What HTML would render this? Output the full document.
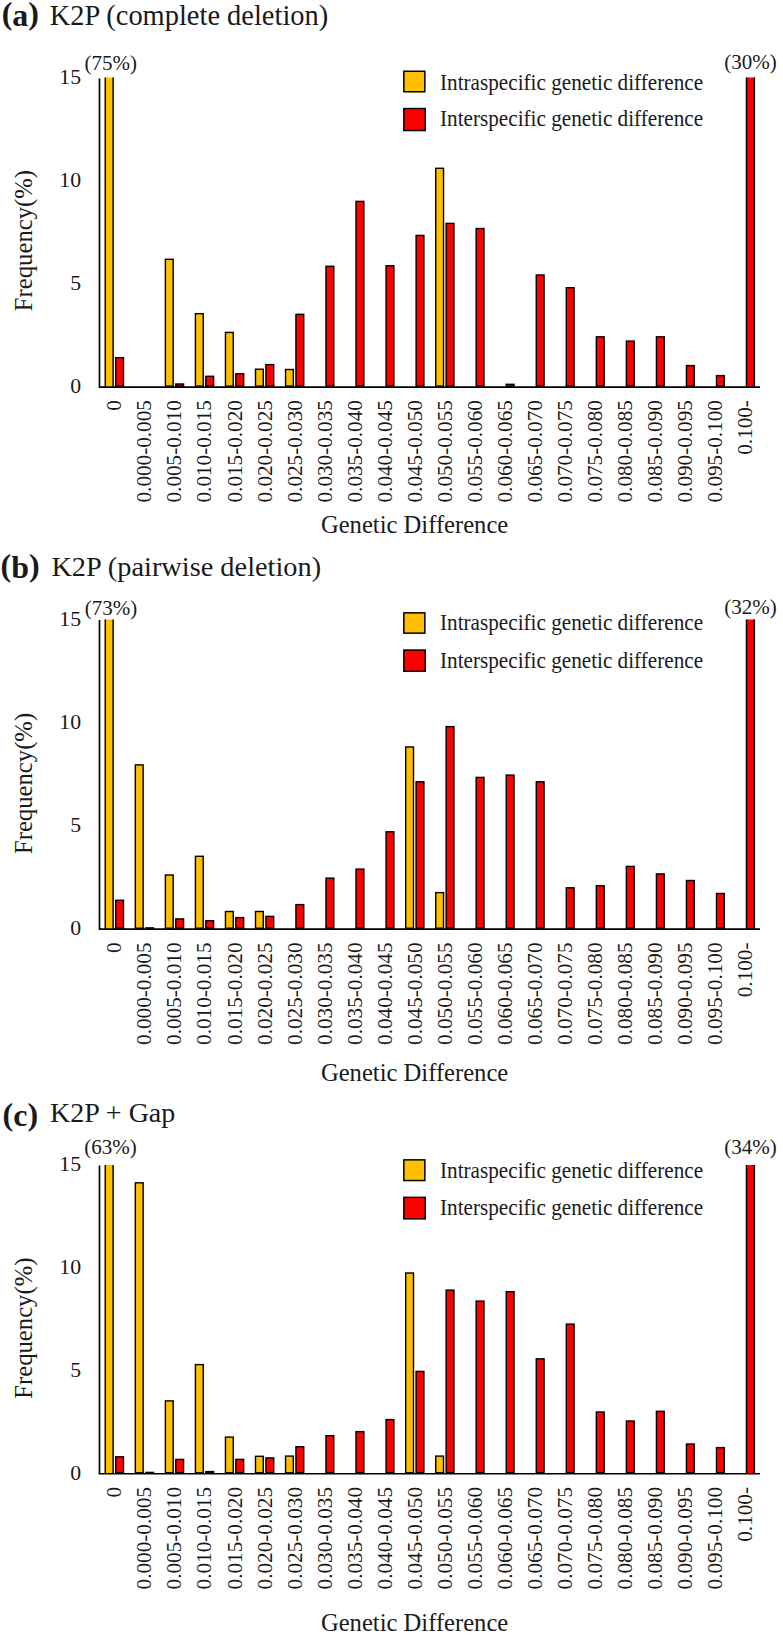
<!DOCTYPE html>
<html><head><meta charset="utf-8"><title>Genetic difference histograms</title>
<style>
html,body{margin:0;padding:0;background:#fff;}
body{width:783px;height:1644px;overflow:hidden;font-family:"Liberation Serif",serif;}
svg{display:block;}
</style></head><body>
<svg width="783" height="1644" viewBox="0 0 783 1644" font-family='"Liberation Serif", serif' fill="#1a1a1a">
<text x="20.35" y="24.02" font-size="32.00" font-weight="bold" text-anchor="middle">(<tspan dy="1.50">a</tspan><tspan dy="-1.50">)</tspan></text>
<text x="49.70" y="24.60" font-size="28.45">K2P (complete deletion)</text>
<rect x="104.60" y="77.50" width="9.20" height="309.30" fill="#FFC000"/><path d="M105.30 77.50V386.80M113.10 77.50V386.80" stroke="#000" stroke-width="1.40"/>
<rect x="115.70" y="357.70" width="7.80" height="28.40" fill="#FF0000" stroke="#000" stroke-width="1.40"/>
<rect x="165.38" y="259.30" width="7.80" height="126.80" fill="#FFC000" stroke="#000" stroke-width="1.40"/>
<rect x="175.78" y="384.00" width="7.80" height="2.10" fill="#FF0000" stroke="#000" stroke-width="1.40"/>
<rect x="195.42" y="313.70" width="7.80" height="72.40" fill="#FFC000" stroke="#000" stroke-width="1.40"/>
<rect x="205.82" y="376.30" width="7.80" height="9.80" fill="#FF0000" stroke="#000" stroke-width="1.40"/>
<rect x="225.46" y="332.40" width="7.80" height="53.70" fill="#FFC000" stroke="#000" stroke-width="1.40"/>
<rect x="235.86" y="373.80" width="7.80" height="12.30" fill="#FF0000" stroke="#000" stroke-width="1.40"/>
<rect x="255.50" y="369.20" width="7.80" height="16.90" fill="#FFC000" stroke="#000" stroke-width="1.40"/>
<rect x="265.90" y="364.60" width="7.80" height="21.50" fill="#FF0000" stroke="#000" stroke-width="1.40"/>
<rect x="285.54" y="369.50" width="7.80" height="16.60" fill="#FFC000" stroke="#000" stroke-width="1.40"/>
<rect x="295.94" y="314.30" width="7.80" height="71.80" fill="#FF0000" stroke="#000" stroke-width="1.40"/>
<rect x="325.98" y="266.30" width="7.80" height="119.80" fill="#FF0000" stroke="#000" stroke-width="1.40"/>
<rect x="356.02" y="201.40" width="7.80" height="184.70" fill="#FF0000" stroke="#000" stroke-width="1.40"/>
<rect x="386.06" y="265.80" width="7.80" height="120.30" fill="#FF0000" stroke="#000" stroke-width="1.40"/>
<rect x="416.10" y="235.40" width="7.80" height="150.70" fill="#FF0000" stroke="#000" stroke-width="1.40"/>
<rect x="435.74" y="168.30" width="7.80" height="217.80" fill="#FFC000" stroke="#000" stroke-width="1.40"/>
<rect x="446.14" y="223.40" width="7.80" height="162.70" fill="#FF0000" stroke="#000" stroke-width="1.40"/>
<rect x="476.18" y="228.50" width="7.80" height="157.60" fill="#FF0000" stroke="#000" stroke-width="1.40"/>
<rect x="506.22" y="384.30" width="7.80" height="1.80" fill="#FF0000" stroke="#000" stroke-width="1.40"/>
<rect x="536.26" y="275.00" width="7.80" height="111.10" fill="#FF0000" stroke="#000" stroke-width="1.40"/>
<rect x="566.30" y="287.70" width="7.80" height="98.40" fill="#FF0000" stroke="#000" stroke-width="1.40"/>
<rect x="596.34" y="336.80" width="7.80" height="49.30" fill="#FF0000" stroke="#000" stroke-width="1.40"/>
<rect x="626.38" y="341.10" width="7.80" height="45.00" fill="#FF0000" stroke="#000" stroke-width="1.40"/>
<rect x="656.42" y="336.80" width="7.80" height="49.30" fill="#FF0000" stroke="#000" stroke-width="1.40"/>
<rect x="686.46" y="365.60" width="7.80" height="20.50" fill="#FF0000" stroke="#000" stroke-width="1.40"/>
<rect x="716.50" y="375.60" width="7.80" height="10.50" fill="#FF0000" stroke="#000" stroke-width="1.40"/>
<rect x="745.84" y="77.50" width="9.20" height="309.30" fill="#FF0000"/><path d="M746.54 77.50V386.80M754.34 77.50V386.80" stroke="#000" stroke-width="1.40"/>
<path d="M99.50 78.60V387.05H760.00" fill="none" stroke="#000" stroke-width="1.7"/>
<text x="81.1" y="393.14" font-size="21.80" text-anchor="end">0</text>
<text x="81.1" y="290.08" font-size="21.80" text-anchor="end">5</text>
<text x="81.1" y="187.01" font-size="21.80" text-anchor="end">10</text>
<text x="81.1" y="83.94" font-size="21.80" text-anchor="end">15</text>
<text transform="translate(31.6 240.55) rotate(-90)" font-size="24.70" text-anchor="middle">Frequency(%)</text>
<text x="110.85" y="69.64" font-size="21.00" text-anchor="middle">(75%)</text>
<text x="750.40" y="69.28" font-size="21.00" text-anchor="middle">(30%)</text>
<rect x="403.85" y="71.25" width="21.00" height="20.50" fill="#FFC000" stroke="#000" stroke-width="1.50"/>
<rect x="403.85" y="108.55" width="21.40" height="22.00" fill="#FF0000" stroke="#000" stroke-width="1.50"/>
<text transform="translate(440 89.90) scale(1 1.080)" font-size="21.20">Intraspecific genetic difference</text>
<text transform="translate(440 126.20) scale(1 1.080)" font-size="21.20">Interspecific genetic difference</text>
<text transform="translate(121.35 400.10) rotate(-90)" font-size="21.20" text-anchor="end">0</text>
<text transform="translate(151.39 400.10) rotate(-90)" font-size="21.20" text-anchor="end">0.000-0.005</text>
<text transform="translate(181.43 400.10) rotate(-90)" font-size="21.20" text-anchor="end">0.005-0.010</text>
<text transform="translate(211.47 400.10) rotate(-90)" font-size="21.20" text-anchor="end">0.010-0.015</text>
<text transform="translate(241.51 400.10) rotate(-90)" font-size="21.20" text-anchor="end">0.015-0.020</text>
<text transform="translate(271.55 400.10) rotate(-90)" font-size="21.20" text-anchor="end">0.020-0.025</text>
<text transform="translate(301.59 400.10) rotate(-90)" font-size="21.20" text-anchor="end">0.025-0.030</text>
<text transform="translate(331.63 400.10) rotate(-90)" font-size="21.20" text-anchor="end">0.030-0.035</text>
<text transform="translate(361.67 400.10) rotate(-90)" font-size="21.20" text-anchor="end">0.035-0.040</text>
<text transform="translate(391.71 400.10) rotate(-90)" font-size="21.20" text-anchor="end">0.040-0.045</text>
<text transform="translate(421.75 400.10) rotate(-90)" font-size="21.20" text-anchor="end">0.045-0.050</text>
<text transform="translate(451.79 400.10) rotate(-90)" font-size="21.20" text-anchor="end">0.050-0.055</text>
<text transform="translate(481.83 400.10) rotate(-90)" font-size="21.20" text-anchor="end">0.055-0.060</text>
<text transform="translate(511.87 400.10) rotate(-90)" font-size="21.20" text-anchor="end">0.060-0.065</text>
<text transform="translate(541.91 400.10) rotate(-90)" font-size="21.20" text-anchor="end">0.065-0.070</text>
<text transform="translate(571.95 400.10) rotate(-90)" font-size="21.20" text-anchor="end">0.070-0.075</text>
<text transform="translate(601.99 400.10) rotate(-90)" font-size="21.20" text-anchor="end">0.075-0.080</text>
<text transform="translate(632.03 400.10) rotate(-90)" font-size="21.20" text-anchor="end">0.080-0.085</text>
<text transform="translate(662.07 400.10) rotate(-90)" font-size="21.20" text-anchor="end">0.085-0.090</text>
<text transform="translate(692.11 400.10) rotate(-90)" font-size="21.20" text-anchor="end">0.090-0.095</text>
<text transform="translate(722.15 400.10) rotate(-90)" font-size="21.20" text-anchor="end">0.095-0.100</text>
<text transform="translate(752.19 400.10) rotate(-90)" font-size="21.20" text-anchor="end">0.100-</text>
<text x="414.6" y="532.70" font-size="24.60" text-anchor="middle">Genetic Difference</text>
<text x="20.15" y="576.02" font-size="32.00" font-weight="bold" text-anchor="middle">(<tspan dy="1.50">b</tspan><tspan dy="-1.50">)</tspan></text>
<text x="51.40" y="576.00" font-size="28.35">K2P (pairwise deletion)</text>
<rect x="104.60" y="619.50" width="9.20" height="309.40" fill="#FFC000"/><path d="M105.30 619.50V928.90M113.10 619.50V928.90" stroke="#000" stroke-width="1.40"/>
<rect x="115.70" y="900.30" width="7.80" height="27.90" fill="#FF0000" stroke="#000" stroke-width="1.40"/>
<rect x="135.34" y="764.90" width="7.80" height="163.30" fill="#FFC000" stroke="#000" stroke-width="1.40"/>
<rect x="145.74" y="927.90" width="7.80" height="0.30" fill="#FF0000" stroke="#000" stroke-width="1.40"/>
<rect x="165.38" y="875.00" width="7.80" height="53.20" fill="#FFC000" stroke="#000" stroke-width="1.40"/>
<rect x="175.78" y="918.90" width="7.80" height="9.30" fill="#FF0000" stroke="#000" stroke-width="1.40"/>
<rect x="195.42" y="856.30" width="7.80" height="71.90" fill="#FFC000" stroke="#000" stroke-width="1.40"/>
<rect x="205.82" y="920.70" width="7.80" height="7.50" fill="#FF0000" stroke="#000" stroke-width="1.40"/>
<rect x="225.46" y="911.50" width="7.80" height="16.70" fill="#FFC000" stroke="#000" stroke-width="1.40"/>
<rect x="235.86" y="917.60" width="7.80" height="10.60" fill="#FF0000" stroke="#000" stroke-width="1.40"/>
<rect x="255.50" y="911.50" width="7.80" height="16.70" fill="#FFC000" stroke="#000" stroke-width="1.40"/>
<rect x="265.90" y="916.40" width="7.80" height="11.80" fill="#FF0000" stroke="#000" stroke-width="1.40"/>
<rect x="295.94" y="904.60" width="7.80" height="23.60" fill="#FF0000" stroke="#000" stroke-width="1.40"/>
<rect x="325.98" y="878.10" width="7.80" height="50.10" fill="#FF0000" stroke="#000" stroke-width="1.40"/>
<rect x="356.02" y="869.10" width="7.80" height="59.10" fill="#FF0000" stroke="#000" stroke-width="1.40"/>
<rect x="386.06" y="831.80" width="7.80" height="96.40" fill="#FF0000" stroke="#000" stroke-width="1.40"/>
<rect x="405.70" y="747.00" width="7.80" height="181.20" fill="#FFC000" stroke="#000" stroke-width="1.40"/>
<rect x="416.10" y="781.80" width="7.80" height="146.40" fill="#FF0000" stroke="#000" stroke-width="1.40"/>
<rect x="435.74" y="892.60" width="7.80" height="35.60" fill="#FFC000" stroke="#000" stroke-width="1.40"/>
<rect x="446.14" y="726.60" width="7.80" height="201.60" fill="#FF0000" stroke="#000" stroke-width="1.40"/>
<rect x="476.18" y="777.40" width="7.80" height="150.80" fill="#FF0000" stroke="#000" stroke-width="1.40"/>
<rect x="506.22" y="775.10" width="7.80" height="153.10" fill="#FF0000" stroke="#000" stroke-width="1.40"/>
<rect x="536.26" y="781.80" width="7.80" height="146.40" fill="#FF0000" stroke="#000" stroke-width="1.40"/>
<rect x="566.30" y="887.80" width="7.80" height="40.40" fill="#FF0000" stroke="#000" stroke-width="1.40"/>
<rect x="596.34" y="885.70" width="7.80" height="42.50" fill="#FF0000" stroke="#000" stroke-width="1.40"/>
<rect x="626.38" y="866.40" width="7.80" height="61.80" fill="#FF0000" stroke="#000" stroke-width="1.40"/>
<rect x="656.42" y="873.90" width="7.80" height="54.30" fill="#FF0000" stroke="#000" stroke-width="1.40"/>
<rect x="686.46" y="880.50" width="7.80" height="47.70" fill="#FF0000" stroke="#000" stroke-width="1.40"/>
<rect x="716.50" y="893.50" width="7.80" height="34.70" fill="#FF0000" stroke="#000" stroke-width="1.40"/>
<rect x="745.84" y="619.50" width="9.20" height="309.40" fill="#FF0000"/><path d="M746.54 619.50V928.90M754.34 619.50V928.90" stroke="#000" stroke-width="1.40"/>
<path d="M99.50 620.10V929.15H760.00" fill="none" stroke="#000" stroke-width="1.7"/>
<text x="81.1" y="935.19" font-size="21.80" text-anchor="end">0</text>
<text x="81.1" y="832.13" font-size="21.80" text-anchor="end">5</text>
<text x="81.1" y="729.06" font-size="21.80" text-anchor="end">10</text>
<text x="81.1" y="625.99" font-size="21.80" text-anchor="end">15</text>
<text transform="translate(31.6 783.45) rotate(-90)" font-size="24.70" text-anchor="middle">Frequency(%)</text>
<text x="110.95" y="614.68" font-size="21.00" text-anchor="middle">(73%)</text>
<text x="750.40" y="614.28" font-size="21.00" text-anchor="middle">(32%)</text>
<rect x="403.85" y="612.85" width="21.00" height="20.30" fill="#FFC000" stroke="#000" stroke-width="1.50"/>
<rect x="403.85" y="650.05" width="21.40" height="21.20" fill="#FF0000" stroke="#000" stroke-width="1.50"/>
<text transform="translate(440 630.40) scale(1 1.080)" font-size="21.20">Intraspecific genetic difference</text>
<text transform="translate(440 667.60) scale(1 1.080)" font-size="21.20">Interspecific genetic difference</text>
<text transform="translate(121.35 942.50) rotate(-90)" font-size="21.20" text-anchor="end">0</text>
<text transform="translate(151.39 942.50) rotate(-90)" font-size="21.20" text-anchor="end">0.000-0.005</text>
<text transform="translate(181.43 942.50) rotate(-90)" font-size="21.20" text-anchor="end">0.005-0.010</text>
<text transform="translate(211.47 942.50) rotate(-90)" font-size="21.20" text-anchor="end">0.010-0.015</text>
<text transform="translate(241.51 942.50) rotate(-90)" font-size="21.20" text-anchor="end">0.015-0.020</text>
<text transform="translate(271.55 942.50) rotate(-90)" font-size="21.20" text-anchor="end">0.020-0.025</text>
<text transform="translate(301.59 942.50) rotate(-90)" font-size="21.20" text-anchor="end">0.025-0.030</text>
<text transform="translate(331.63 942.50) rotate(-90)" font-size="21.20" text-anchor="end">0.030-0.035</text>
<text transform="translate(361.67 942.50) rotate(-90)" font-size="21.20" text-anchor="end">0.035-0.040</text>
<text transform="translate(391.71 942.50) rotate(-90)" font-size="21.20" text-anchor="end">0.040-0.045</text>
<text transform="translate(421.75 942.50) rotate(-90)" font-size="21.20" text-anchor="end">0.045-0.050</text>
<text transform="translate(451.79 942.50) rotate(-90)" font-size="21.20" text-anchor="end">0.050-0.055</text>
<text transform="translate(481.83 942.50) rotate(-90)" font-size="21.20" text-anchor="end">0.055-0.060</text>
<text transform="translate(511.87 942.50) rotate(-90)" font-size="21.20" text-anchor="end">0.060-0.065</text>
<text transform="translate(541.91 942.50) rotate(-90)" font-size="21.20" text-anchor="end">0.065-0.070</text>
<text transform="translate(571.95 942.50) rotate(-90)" font-size="21.20" text-anchor="end">0.070-0.075</text>
<text transform="translate(601.99 942.50) rotate(-90)" font-size="21.20" text-anchor="end">0.075-0.080</text>
<text transform="translate(632.03 942.50) rotate(-90)" font-size="21.20" text-anchor="end">0.080-0.085</text>
<text transform="translate(662.07 942.50) rotate(-90)" font-size="21.20" text-anchor="end">0.085-0.090</text>
<text transform="translate(692.11 942.50) rotate(-90)" font-size="21.20" text-anchor="end">0.090-0.095</text>
<text transform="translate(722.15 942.50) rotate(-90)" font-size="21.20" text-anchor="end">0.095-0.100</text>
<text transform="translate(752.19 942.50) rotate(-90)" font-size="21.20" text-anchor="end">0.100-</text>
<text x="414.6" y="1080.80" font-size="24.60" text-anchor="middle">Genetic Difference</text>
<text x="20.35" y="1124.52" font-size="32.00" font-weight="bold" text-anchor="middle">(<tspan dy="1.50">c</tspan><tspan dy="-1.50">)</tspan></text>
<text x="50.10" y="1121.50" font-size="28.00">K2P + Gap</text>
<rect x="104.60" y="1165.00" width="9.20" height="308.50" fill="#FFC000"/><path d="M105.30 1165.00V1473.50M113.10 1165.00V1473.50" stroke="#000" stroke-width="1.40"/>
<rect x="115.70" y="1456.80" width="7.80" height="16.00" fill="#FF0000" stroke="#000" stroke-width="1.40"/>
<rect x="135.34" y="1182.80" width="7.80" height="290.00" fill="#FFC000" stroke="#000" stroke-width="1.40"/>
<rect x="145.74" y="1472.40" width="7.80" height="0.40" fill="#FF0000" stroke="#000" stroke-width="1.40"/>
<rect x="165.38" y="1400.90" width="7.80" height="71.90" fill="#FFC000" stroke="#000" stroke-width="1.40"/>
<rect x="175.78" y="1459.40" width="7.80" height="13.40" fill="#FF0000" stroke="#000" stroke-width="1.40"/>
<rect x="195.42" y="1364.60" width="7.80" height="108.20" fill="#FFC000" stroke="#000" stroke-width="1.40"/>
<rect x="205.82" y="1471.60" width="7.80" height="1.20" fill="#FF0000" stroke="#000" stroke-width="1.40"/>
<rect x="225.46" y="1437.10" width="7.80" height="35.70" fill="#FFC000" stroke="#000" stroke-width="1.40"/>
<rect x="235.86" y="1459.40" width="7.80" height="13.40" fill="#FF0000" stroke="#000" stroke-width="1.40"/>
<rect x="255.50" y="1456.30" width="7.80" height="16.50" fill="#FFC000" stroke="#000" stroke-width="1.40"/>
<rect x="265.90" y="1457.90" width="7.80" height="14.90" fill="#FF0000" stroke="#000" stroke-width="1.40"/>
<rect x="285.54" y="1456.10" width="7.80" height="16.70" fill="#FFC000" stroke="#000" stroke-width="1.40"/>
<rect x="295.94" y="1446.70" width="7.80" height="26.10" fill="#FF0000" stroke="#000" stroke-width="1.40"/>
<rect x="325.98" y="1435.70" width="7.80" height="37.10" fill="#FF0000" stroke="#000" stroke-width="1.40"/>
<rect x="356.02" y="1431.60" width="7.80" height="41.20" fill="#FF0000" stroke="#000" stroke-width="1.40"/>
<rect x="386.06" y="1419.60" width="7.80" height="53.20" fill="#FF0000" stroke="#000" stroke-width="1.40"/>
<rect x="405.70" y="1273.00" width="7.80" height="199.80" fill="#FFC000" stroke="#000" stroke-width="1.40"/>
<rect x="416.10" y="1371.40" width="7.80" height="101.40" fill="#FF0000" stroke="#000" stroke-width="1.40"/>
<rect x="435.74" y="1456.10" width="7.80" height="16.70" fill="#FFC000" stroke="#000" stroke-width="1.40"/>
<rect x="446.14" y="1290.10" width="7.80" height="182.70" fill="#FF0000" stroke="#000" stroke-width="1.40"/>
<rect x="476.18" y="1301.10" width="7.80" height="171.70" fill="#FF0000" stroke="#000" stroke-width="1.40"/>
<rect x="506.22" y="1291.70" width="7.80" height="181.10" fill="#FF0000" stroke="#000" stroke-width="1.40"/>
<rect x="536.26" y="1358.80" width="7.80" height="114.00" fill="#FF0000" stroke="#000" stroke-width="1.40"/>
<rect x="566.30" y="1324.10" width="7.80" height="148.70" fill="#FF0000" stroke="#000" stroke-width="1.40"/>
<rect x="596.34" y="1412.00" width="7.80" height="60.80" fill="#FF0000" stroke="#000" stroke-width="1.40"/>
<rect x="626.38" y="1421.00" width="7.80" height="51.80" fill="#FF0000" stroke="#000" stroke-width="1.40"/>
<rect x="656.42" y="1411.30" width="7.80" height="61.50" fill="#FF0000" stroke="#000" stroke-width="1.40"/>
<rect x="686.46" y="1444.00" width="7.80" height="28.80" fill="#FF0000" stroke="#000" stroke-width="1.40"/>
<rect x="716.50" y="1447.60" width="7.80" height="25.20" fill="#FF0000" stroke="#000" stroke-width="1.40"/>
<rect x="745.84" y="1165.00" width="9.20" height="308.50" fill="#FF0000"/><path d="M746.54 1165.00V1473.50M754.34 1165.00V1473.50" stroke="#000" stroke-width="1.40"/>
<path d="M99.50 1165.60V1473.75H760.00" fill="none" stroke="#000" stroke-width="1.7"/>
<text x="81.1" y="1479.79" font-size="21.80" text-anchor="end">0</text>
<text x="81.1" y="1376.93" font-size="21.80" text-anchor="end">5</text>
<text x="81.1" y="1274.06" font-size="21.80" text-anchor="end">10</text>
<text x="81.1" y="1171.19" font-size="21.80" text-anchor="end">15</text>
<text transform="translate(31.6 1328.15) rotate(-90)" font-size="24.70" text-anchor="middle">Frequency(%)</text>
<text x="110.60" y="1153.59" font-size="21.00" text-anchor="middle">(63%)</text>
<text x="750.40" y="1153.84" font-size="21.00" text-anchor="middle">(34%)</text>
<rect x="403.85" y="1159.85" width="21.00" height="20.70" fill="#FFC000" stroke="#000" stroke-width="1.50"/>
<rect x="403.85" y="1197.35" width="21.40" height="21.50" fill="#FF0000" stroke="#000" stroke-width="1.50"/>
<text transform="translate(440 1177.90) scale(1 1.080)" font-size="21.20">Intraspecific genetic difference</text>
<text transform="translate(440 1215.30) scale(1 1.080)" font-size="21.20">Interspecific genetic difference</text>
<text transform="translate(121.35 1487.00) rotate(-90)" font-size="21.20" text-anchor="end">0</text>
<text transform="translate(151.39 1487.00) rotate(-90)" font-size="21.20" text-anchor="end">0.000-0.005</text>
<text transform="translate(181.43 1487.00) rotate(-90)" font-size="21.20" text-anchor="end">0.005-0.010</text>
<text transform="translate(211.47 1487.00) rotate(-90)" font-size="21.20" text-anchor="end">0.010-0.015</text>
<text transform="translate(241.51 1487.00) rotate(-90)" font-size="21.20" text-anchor="end">0.015-0.020</text>
<text transform="translate(271.55 1487.00) rotate(-90)" font-size="21.20" text-anchor="end">0.020-0.025</text>
<text transform="translate(301.59 1487.00) rotate(-90)" font-size="21.20" text-anchor="end">0.025-0.030</text>
<text transform="translate(331.63 1487.00) rotate(-90)" font-size="21.20" text-anchor="end">0.030-0.035</text>
<text transform="translate(361.67 1487.00) rotate(-90)" font-size="21.20" text-anchor="end">0.035-0.040</text>
<text transform="translate(391.71 1487.00) rotate(-90)" font-size="21.20" text-anchor="end">0.040-0.045</text>
<text transform="translate(421.75 1487.00) rotate(-90)" font-size="21.20" text-anchor="end">0.045-0.050</text>
<text transform="translate(451.79 1487.00) rotate(-90)" font-size="21.20" text-anchor="end">0.050-0.055</text>
<text transform="translate(481.83 1487.00) rotate(-90)" font-size="21.20" text-anchor="end">0.055-0.060</text>
<text transform="translate(511.87 1487.00) rotate(-90)" font-size="21.20" text-anchor="end">0.060-0.065</text>
<text transform="translate(541.91 1487.00) rotate(-90)" font-size="21.20" text-anchor="end">0.065-0.070</text>
<text transform="translate(571.95 1487.00) rotate(-90)" font-size="21.20" text-anchor="end">0.070-0.075</text>
<text transform="translate(601.99 1487.00) rotate(-90)" font-size="21.20" text-anchor="end">0.075-0.080</text>
<text transform="translate(632.03 1487.00) rotate(-90)" font-size="21.20" text-anchor="end">0.080-0.085</text>
<text transform="translate(662.07 1487.00) rotate(-90)" font-size="21.20" text-anchor="end">0.085-0.090</text>
<text transform="translate(692.11 1487.00) rotate(-90)" font-size="21.20" text-anchor="end">0.090-0.095</text>
<text transform="translate(722.15 1487.00) rotate(-90)" font-size="21.20" text-anchor="end">0.095-0.100</text>
<text transform="translate(752.19 1487.00) rotate(-90)" font-size="21.20" text-anchor="end">0.100-</text>
<text x="414.6" y="1630.80" font-size="24.60" text-anchor="middle">Genetic Difference</text>
</svg>
</body></html>
